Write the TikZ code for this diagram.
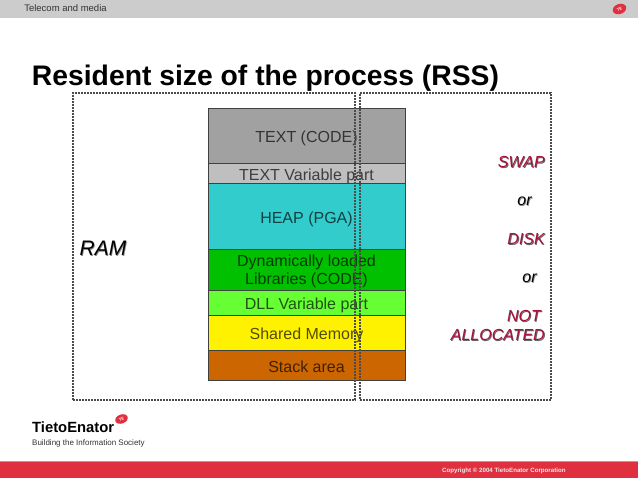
\documentclass[tikz,border=0pt]{standalone}
\usepackage{fontspec}
\setmainfont{Liberation Sans}
\usepackage{tikz}
\usetikzlibrary{shapes.geometric}
\definecolor{bandgrey}{HTML}{CCCCCC}
\definecolor{bandred}{HTML}{E0303F}
\definecolor{bandpink}{HTML}{F08088}
\definecolor{swapred}{HTML}{A8103C}
\definecolor{heapcyan}{HTML}{33CCCC}
\definecolor{dllgreen}{HTML}{00C000}
\definecolor{dllvargreen}{HTML}{66FF33}
\definecolor{stackbrown}{HTML}{CC6600}
\newcommand{\shadowed}[2][black!60]{\rlap{\kern0.8pt\raisebox{-0.8pt}{\textcolor{#1}{#2}}}#2}
\tikzset{
    memblock/.style={draw=black!75, line width=0.7pt, minimum width=197pt, inner sep=0pt, align=center,
        font=\fontsize{16}{18}\selectfont, text=black, text opacity=0.68, text height=14pt, text depth=0pt},
    dotframe/.style={draw=black!70, line width=1.8pt, dash pattern=on 1.8pt off 1.2pt, inner sep=0pt},
    swapword/.style={font=\fontsize{16}{18}\selectfont\itshape, text=swapred, inner sep=0pt},
    orword/.style={font=\fontsize{16}{18}\selectfont\itshape, text=black, inner sep=0pt},
    badge/.style={shape=ellipse, fill=bandred, inner sep=0pt, rotate=20, text=white},
}
\begin{document}
\begin{tikzpicture}[x=1pt, y=-1pt]
    \useasboundingbox (0, 0) rectangle (638, 479);
    \node[fill=white, minimum width=638pt, minimum height=479pt, inner sep=0pt] (page) at (319, 239.5) {};
    \node[fill=bandgrey, minimum width=638pt, minimum height=17.5pt, inner sep=0pt] (topband) at (319, 8.75) {};
    \node[fill=bandred, minimum width=638pt, minimum height=17pt, inner sep=0pt] (bottomband) at (319, 469.5) {};
    \node[fill=bandpink, minimum width=638pt, minimum height=1pt, inner sep=0pt] (bottomedge) at (319, 461.5) {};
    \node[font=\fontsize{9.5}{10}\selectfont, text=black!80, inner sep=0pt] (media) at (65.5, 8.5) {Telecom and media};
    \node[badge, minimum width=14pt, minimum height=10pt, font=\fontsize{4}{4}\selectfont\bfseries] (topbadge) at (619.5, 9) {TE};
    \node[font=\fontsize{28.3}{30}\selectfont\bfseries, anchor=base, inner sep=0pt] (title) at (265.5, 85) {Resident size of the process (RSS)};
    % memory blocks
    \node[memblock, fill=black!37, minimum height=55pt] (code) at (306.5, 135.5) {TEXT (CODE)};
    \node[memblock, fill=black!25, minimum height=20pt] (textvar) at (306.5, 173) {TEXT Variable part};
    \node[memblock, fill=heapcyan, minimum height=66pt] (heap) at (306.5, 216) {HEAP (PGA)};
    \node[memblock, fill=dllgreen, minimum height=41pt, text height=, text depth=] (dll) at (306.5, 269.5) {\rule{0pt}{15.5pt}Dynamically loaded\\Libraries (CODE)};
    \node[memblock, fill=dllvargreen, minimum height=25pt] (dllvar) at (306.5, 302.5) {DLL Variable part};
    \node[memblock, fill=yellow, minimum height=35pt] (shared) at (306.5, 332.5) {Shared Memory};
    \node[memblock, fill=stackbrown, minimum height=30pt] (stack) at (306.5, 365) {Stack area};
    % the two dotted areas
    \node[dotframe, minimum width=282pt, minimum height=307pt] (ramframe) at (214, 246.5) {};
    \node[dotframe, minimum width=191pt, minimum height=307pt] (swapframe) at (455.5, 246.5) {};
    \node[font=\fontsize{21}{24}\selectfont\itshape, inner sep=0pt] (ram) at (103, 249) {\shadowed[black!45]{RAM}};
    \node[swapword, anchor=east] (swap) at (545, 162.5) {\shadowed{SWAP}};
    \node[orword] (or1) at (524.5, 201.5) {\shadowed[black!45]{or}};
    \node[swapword, anchor=east] (disk) at (545, 239.5) {\shadowed{DISK}};
    \node[orword] (or2) at (529.5, 278.5) {\shadowed[black!45]{or}};
    \node[swapword] (nota) at (524, 316.5) {\shadowed{NOT}};
    \node[swapword, anchor=east] (allocated) at (545, 335.5) {\shadowed{ALLOCATED}};
    % logo and footer
    \node[font=\fontsize{14.8}{18}\selectfont\bfseries, anchor=west, inner sep=0pt] (logo) at (32, 427) {TietoEnator};
    \node[badge, minimum width=13pt, minimum height=9pt, font=\fontsize{4}{4}\selectfont\bfseries] (logobadge) at (121.5, 419) {TE};
    \node[font=\fontsize{8}{9}\selectfont, text=black!80, anchor=west, inner sep=0pt] (slogan) at (32, 443) {Building the Information Society};
    \node[font=\fontsize{6.15}{7}\selectfont\bfseries, text=white!92!black, anchor=west, inner sep=0pt] (copyright) at (442, 471) {Copyright © 2004 TietoEnator Corporation};
\end{tikzpicture}
\end{document}
